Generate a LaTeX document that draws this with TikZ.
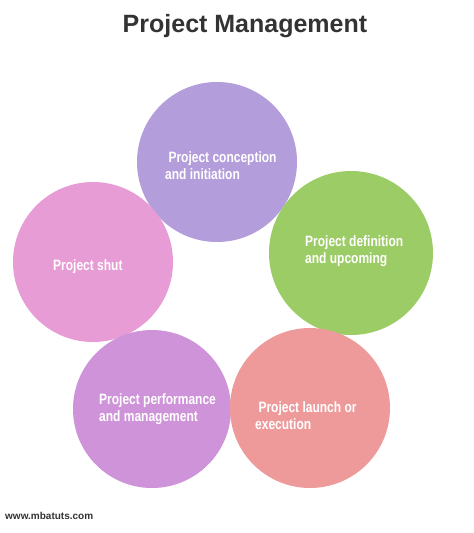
\documentclass[tikz,border=0pt]{standalone}
\usepackage{fontspec}
\setmainfont{Liberation Sans}
\newfontfamily\labfont[FakeStretch=0.8]{Liberation Sans}
\definecolor{cpurple}{RGB}{179,157,219}
\definecolor{cgreen}{RGB}{156,204,101}
\definecolor{cpink}{RGB}{232,156,214}
\definecolor{corchid}{RGB}{206,147,216}
\definecolor{csalmon}{RGB}{239,154,154}
\definecolor{ctitle}{RGB}{51,51,51}
\begin{document}
\begin{tikzpicture}[x=1pt,y=-1pt,
  blob/.style={circle,inner sep=0pt,minimum size=#1},
  lab/.style={text=white,font=\labfont\bfseries\fontsize{15}{17}\selectfont,align=left,anchor=west,inner sep=0pt}]
\useasboundingbox[fill=white] (0,0) rectangle (474,533);
\node[font=\bfseries\fontsize{25}{30}\selectfont,text=ctitle] (title) at (245,26) {Project Management};
\node[blob=160,fill=cpurple] (c1) at (217,162) {};
\node[blob=164,fill=cgreen] (c2) at (351,253) {};
\node[blob=160,fill=cpink] (c5) at (93,262) {};
\node[blob=158,fill=corchid] (c4) at (152,409) {};
\node[blob=160,fill=csalmon] (c3) at (310,408) {};
\node[lab] (t1) at (165,165.5) {\ Project conception\\and initiation};
\node[lab] (t2) at (305,251) {Project definition\\and upcoming};
\node[lab] (t5) at (53,267) {Project shut};
\node[lab] (t4) at (99,409) {Project performance\\and management};
\node[lab] (t3) at (255,416) {\ Project launch or\\execution};
\node[font=\bfseries\fontsize{10}{12}\selectfont,text=ctitle,anchor=west,inner sep=0pt] (web) at (5,516) {www.mbatuts.com};
\end{tikzpicture}
\end{document}
